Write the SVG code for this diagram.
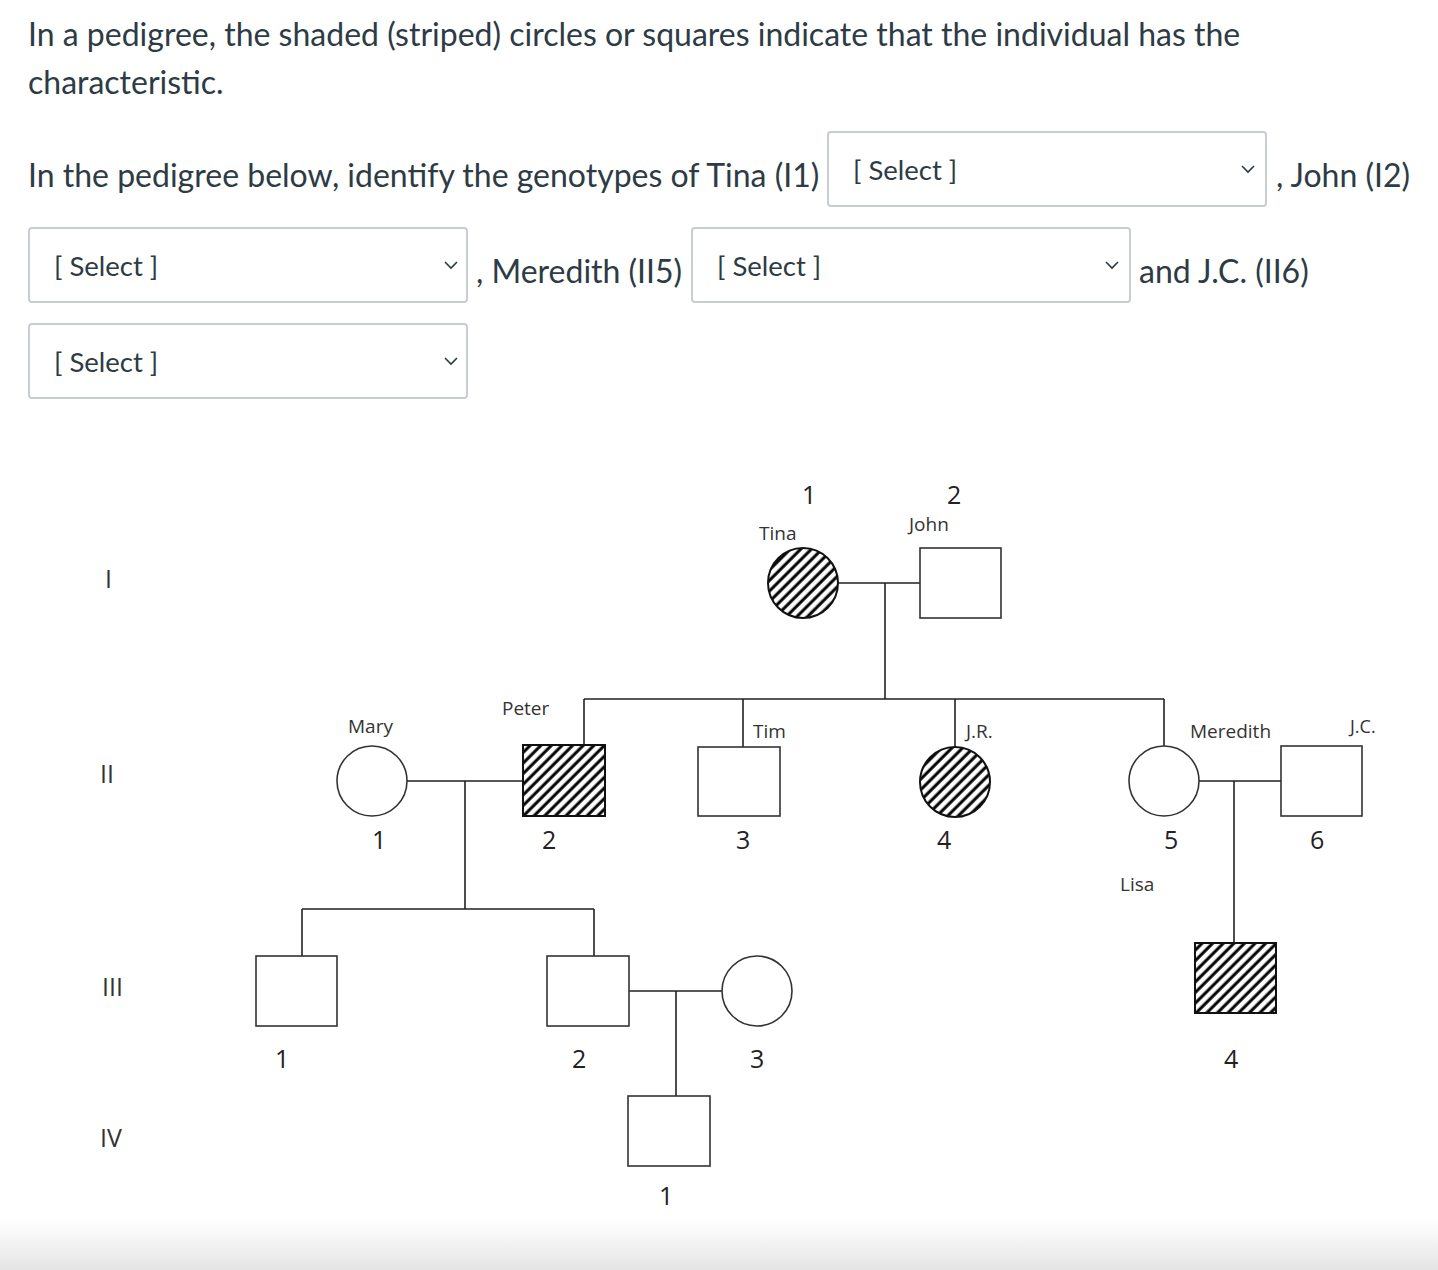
<svg xmlns="http://www.w3.org/2000/svg" width="1438" height="1270" viewBox="0 0 1438 1270">
<style>
.q{font-family:Lato,"Liberation Sans",sans-serif;font-size:32px;fill:#2d3b45}
.sel{fill:#fff;stroke:#c7cdd1;stroke-width:2}
.st{font-family:Lato,"Liberation Sans",sans-serif;font-size:27.5px;fill:#2d3b45}
.chev{fill:none;stroke:#2d3b45;stroke-width:1.6}
.n{font-family:"Open Sans","DejaVu Sans",sans-serif;font-size:19px;fill:#333}
.num{font-family:"Open Sans","DejaVu Sans",sans-serif;font-size:25px;fill:#222}
.sh{fill:#fff;stroke:#333;stroke-width:1.6}
.hs{fill:url(#hatch);stroke:#111;stroke-width:2}
.ln{fill:none;stroke:#222;stroke-width:1.6}
</style>
<defs>
<pattern id="hatch" width="7.5" height="7.5" patternUnits="userSpaceOnUse" patternTransform="rotate(45)">
<rect width="7.5" height="7.5" fill="#fff"/>
<line x1="2" y1="0" x2="2" y2="7.5" stroke="#000" stroke-width="3"/>
</pattern>
<linearGradient id="fade" x1="0" y1="0" x2="0" y2="1">
<stop offset="0" stop-color="#fff"/><stop offset="1" stop-color="#e4e4e4"/>
</linearGradient>
</defs>
<rect width="1438" height="1270" fill="#fff"/>
<rect y="1220" width="1438" height="50" fill="url(#fade)"/>
<g id="question">
<text class="q" x="28" y="46">In a pedigree, the shaded (striped) circles or squares indicate that the individual has the</text>
<text class="q" x="28" y="94">characteristic.</text>
<text class="q" x="28" y="187">In the pedigree below, identify the genotypes of Tina (I1)</text>
<text class="q" x="1276" y="187">, John (I2)</text>
<text class="q" x="476" y="283">, Meredith (II5)</text>
<text class="q" x="1139" y="283">and J.C. (II6)</text>
</g>
<g id="selects">
<rect class="sel" x="828" y="132" width="438" height="74" rx="3"/>
<text class="st" x="853" y="180">[ Select ]</text>
<path class="chev" d="M1242 166l6 6 6-6"/>
<rect class="sel" x="29" y="228" width="438" height="74" rx="3"/>
<text class="st" x="54" y="276">[ Select ]</text>
<path class="chev" d="M445 262l6 6 6-6"/>
<rect class="sel" x="692" y="228" width="438" height="74" rx="3"/>
<text class="st" x="717" y="276">[ Select ]</text>
<path class="chev" d="M1106 262l6 6 6-6"/>
<rect class="sel" x="29" y="324" width="438" height="74" rx="3"/>
<text class="st" x="54" y="372">[ Select ]</text>
<path class="chev" d="M445 358l6 6 6-6"/>
</g>
<g id="generations" class="n" style="font-size:25px">
<text x="105" y="588">I</text>
<text x="100" y="783">II</text>
<text x="102" y="996">III</text>
<text x="100" y="1147">IV</text>
</g>
<g id="connectors">
<path class="ln" d="M838 583H920M885 583V699M584 699H1164M584 699V745M743 699V747M955 699V747M1164 699V746"/>
<path class="ln" d="M407 781H523M465 781V909M302 909H594M302 909V956M594 909V956"/>
<path class="ln" d="M1199 781H1281M1234 781V943"/>
<path class="ln" d="M629 991H722M676 991V1096"/>
</g>
<g id="I1"><circle class="hs" cx="803" cy="583" r="35"/><text class="n" x="759" y="540">Tina</text><text class="num" x="802" y="504">1</text></g>
<g id="I2"><rect class="sh" x="920" y="548" width="81" height="70"/><text class="n" x="909" y="531">John</text><text class="num" x="947" y="504">2</text></g>
<g id="II1"><circle class="sh" cx="372" cy="781" r="35"/><text class="n" x="348" y="733">Mary</text><text class="num" x="372" y="849">1</text></g>
<g id="II2"><rect class="hs" x="523" y="745" width="82" height="71"/><text class="n" x="502" y="715">Peter</text><text class="num" x="542" y="849">2</text></g>
<g id="II3"><rect class="sh" x="698" y="747" width="82" height="69"/><text class="n" x="753" y="738">Tim</text><text class="num" x="736" y="849">3</text></g>
<g id="II4"><circle class="hs" cx="955" cy="782" r="35"/><text class="n" x="966" y="738">J.R.</text><text class="num" x="937" y="849">4</text></g>
<g id="II5"><circle class="sh" cx="1164" cy="781" r="35"/><text class="n" x="1190" y="738">Meredith</text><text class="num" x="1164" y="849">5</text><text class="n" x="1120" y="891">Lisa</text></g>
<g id="II6"><rect class="sh" x="1281" y="746" width="81" height="70"/><text class="n" x="1350" y="733" style="font-size:18px">J.C.</text><text class="num" x="1310" y="849">6</text></g>
<g id="III1"><rect class="sh" x="256" y="956" width="81" height="70"/><text class="num" x="275" y="1068">1</text></g>
<g id="III2"><rect class="sh" x="547" y="956" width="82" height="70"/><text class="num" x="572" y="1068">2</text></g>
<g id="III3"><circle class="sh" cx="757" cy="991" r="35"/><text class="num" x="750" y="1068">3</text></g>
<g id="III4"><rect class="hs" x="1195" y="943" width="81" height="70"/><text class="num" x="1224" y="1068">4</text></g>
<g id="IV1"><rect class="sh" x="628" y="1096" width="82" height="70"/><text class="num" x="659" y="1205">1</text></g>
</svg>
